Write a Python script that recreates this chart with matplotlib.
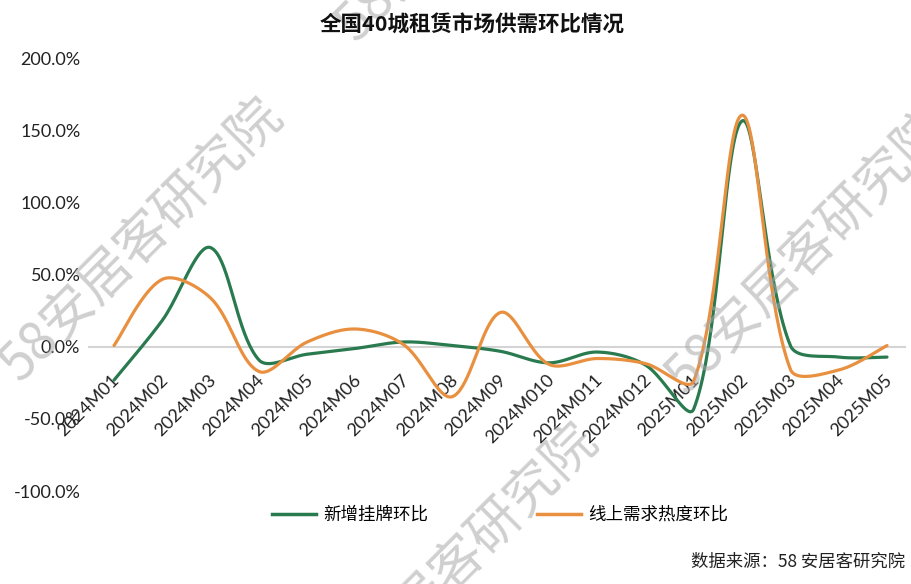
import numpy as np
import matplotlib
matplotlib.use('Agg')
import matplotlib.pyplot as plt
from matplotlib.transforms import ScaledTranslation
from matplotlib.lines import Line2D

months = ['2024M01', '2024M02', '2024M03', '2024M04', '2024M05', '2024M06',
          '2024M07', '2024M08', '2024M09', '2024M010', '2024M011', '2024M012',
          '2025M01', '2025M02', '2025M03', '2025M04', '2025M05']
new_listing = [-23, 18.5, 69, -9, -5, -1, 3.5, 1, -3, -11, -3.5, -12.5,
               -43, 157, 1, -7, -7]
online_demand = [1, 47, 34, -17, 3.5, 12.5, 1.5, -34.5, 24, -12, -8, -11.5,
                 -23.5, 161, -15.5, -16, 1]
series_names = ['新增挂牌环比', '线上需求热度环比']
yticks = [-100, -50, 0, 50, 100, 150, 200]
title = '全国40城租赁市场供需环比情况'
source = '数据来源：58 安居客研究院'
watermark = '58安居客研究院'

GREEN = '#2a7a4f'
ORANGE = '#e8903f'

plt.rcParams['font.family'] = ['Lato', 'Noto Sans CJK SC', 'DejaVu Sans']
CJK = ['Noto Sans CJK SC', 'DejaVu Sans']

XS, YS = 48.3125, 1.44  # screen-space aspect used for smoothing


def smooth(vals, n=40, f=1 / 3):
    y = np.asarray(vals, float)
    P = np.column_stack([np.arange(len(y)) * XS, y * YS])
    m = len(P)
    cout = np.zeros_like(P)
    cin = np.zeros_like(P)
    for i in range(m):
        if i == 0:
            cout[i] = P[0] + (P[1] - P[0]) * f * 0.5
            continue
        if i == m - 1:
            cin[i] = P[i] - (P[i] - P[i - 1]) * f * 0.5
            continue
        dp = np.hypot(*(P[i] - P[i - 1]))
        dn = np.hypot(*(P[i + 1] - P[i]))
        T = P[i + 1] - P[i - 1]
        cout[i] = P[i] + T * dn / (dp + dn) * f
        cin[i] = P[i] - T * dp / (dp + dn) * f
    t = np.linspace(0, 1, n, endpoint=False)[:, None]
    pts = []
    for i in range(m - 1):
        b = ((1 - t) ** 3 * P[i] + 3 * (1 - t) ** 2 * t * cout[i]
             + 3 * (1 - t) * t ** 2 * cin[i + 1] + t ** 3 * P[i + 1])
        pts.append(b)
    pts.append(P[-1:])
    pts = np.vstack(pts)
    return pts[:, 0] / XS, pts[:, 1] / YS


W, H = 912, 584
fig = plt.figure(figsize=(W / 100, H / 100), dpi=100)
ax = fig.add_axes([88 / W, 1 - 491 / H, (906 - 88) / W, (491 - 59) / H])

n = len(months)
ax.set_xlim(-(114 - 88) / 48.3125, (n - 1) + (906 - 887) / 48.3125)
ax.set_ylim(-100, 200)

ax.axhline(0, color='#d4d4d4', lw=1.5, zorder=1)

x1, y1 = smooth(new_listing)
x2, y2 = smooth(online_demand)
ax.plot(x1, y1, color=GREEN, lw=2.3, zorder=3, solid_capstyle='round')
ax.plot(x2, y2, color=ORANGE, lw=2.3, zorder=4, solid_capstyle='round')

for s in ax.spines.values():
    s.set_visible(False)
ax.spines['bottom'].set_position(('data', 0))

ax.set_yticks(yticks)
ax.set_yticklabels([f'{v:.1f}%' for v in yticks])
ax.tick_params(axis='y', length=0, pad=5.5, labelsize=13, labelcolor='#222222')

ax.set_xticks(range(n))
ax.set_xticklabels(months, rotation=45, ha='right', va='center',
                   rotation_mode='anchor')
ax.tick_params(axis='x', length=0, pad=22, labelsize=13, labelcolor='#222222')
off = ScaledTranslation(3 / 100, 0, fig.dpi_scale_trans)
for lab in ax.get_xticklabels():
    lab.set_transform(lab.get_transform() + off)

fig.text(472 / W, 1 - 25 / H, title, ha='center', va='center', fontsize=15.5,
         fontweight='bold', family=CJK, color='#111111')

handles = [Line2D([], [], color=GREEN, lw=2.5), Line2D([], [], color=ORANGE, lw=2.5)]
fig.legend(handles, series_names, loc='center', bbox_to_anchor=(500 / W, 1 - 515 / H),
           ncol=2, frameon=False, prop={'family': CJK, 'size': 12.6},
           handlelength=2.5, handletextpad=0.42, columnspacing=6.2,
           borderpad=0, borderaxespad=0)

fig.text(905 / W, 1 - 562 / H, source, ha='right', va='center', fontsize=12.5,
         family=CJK, color='#222222')

for cx, cy in [(142, 240), (808, 252), (457, 565), (478, -100)]:
    fig.text(cx / W, 1 - cy / H, watermark, ha='center', va='center', rotation=45,
             rotation_mode='anchor', fontsize=38, family=CJK, color='#a8a8a8',
             alpha=0.55, zorder=0)

fig.savefig('out.png', dpi=100)
